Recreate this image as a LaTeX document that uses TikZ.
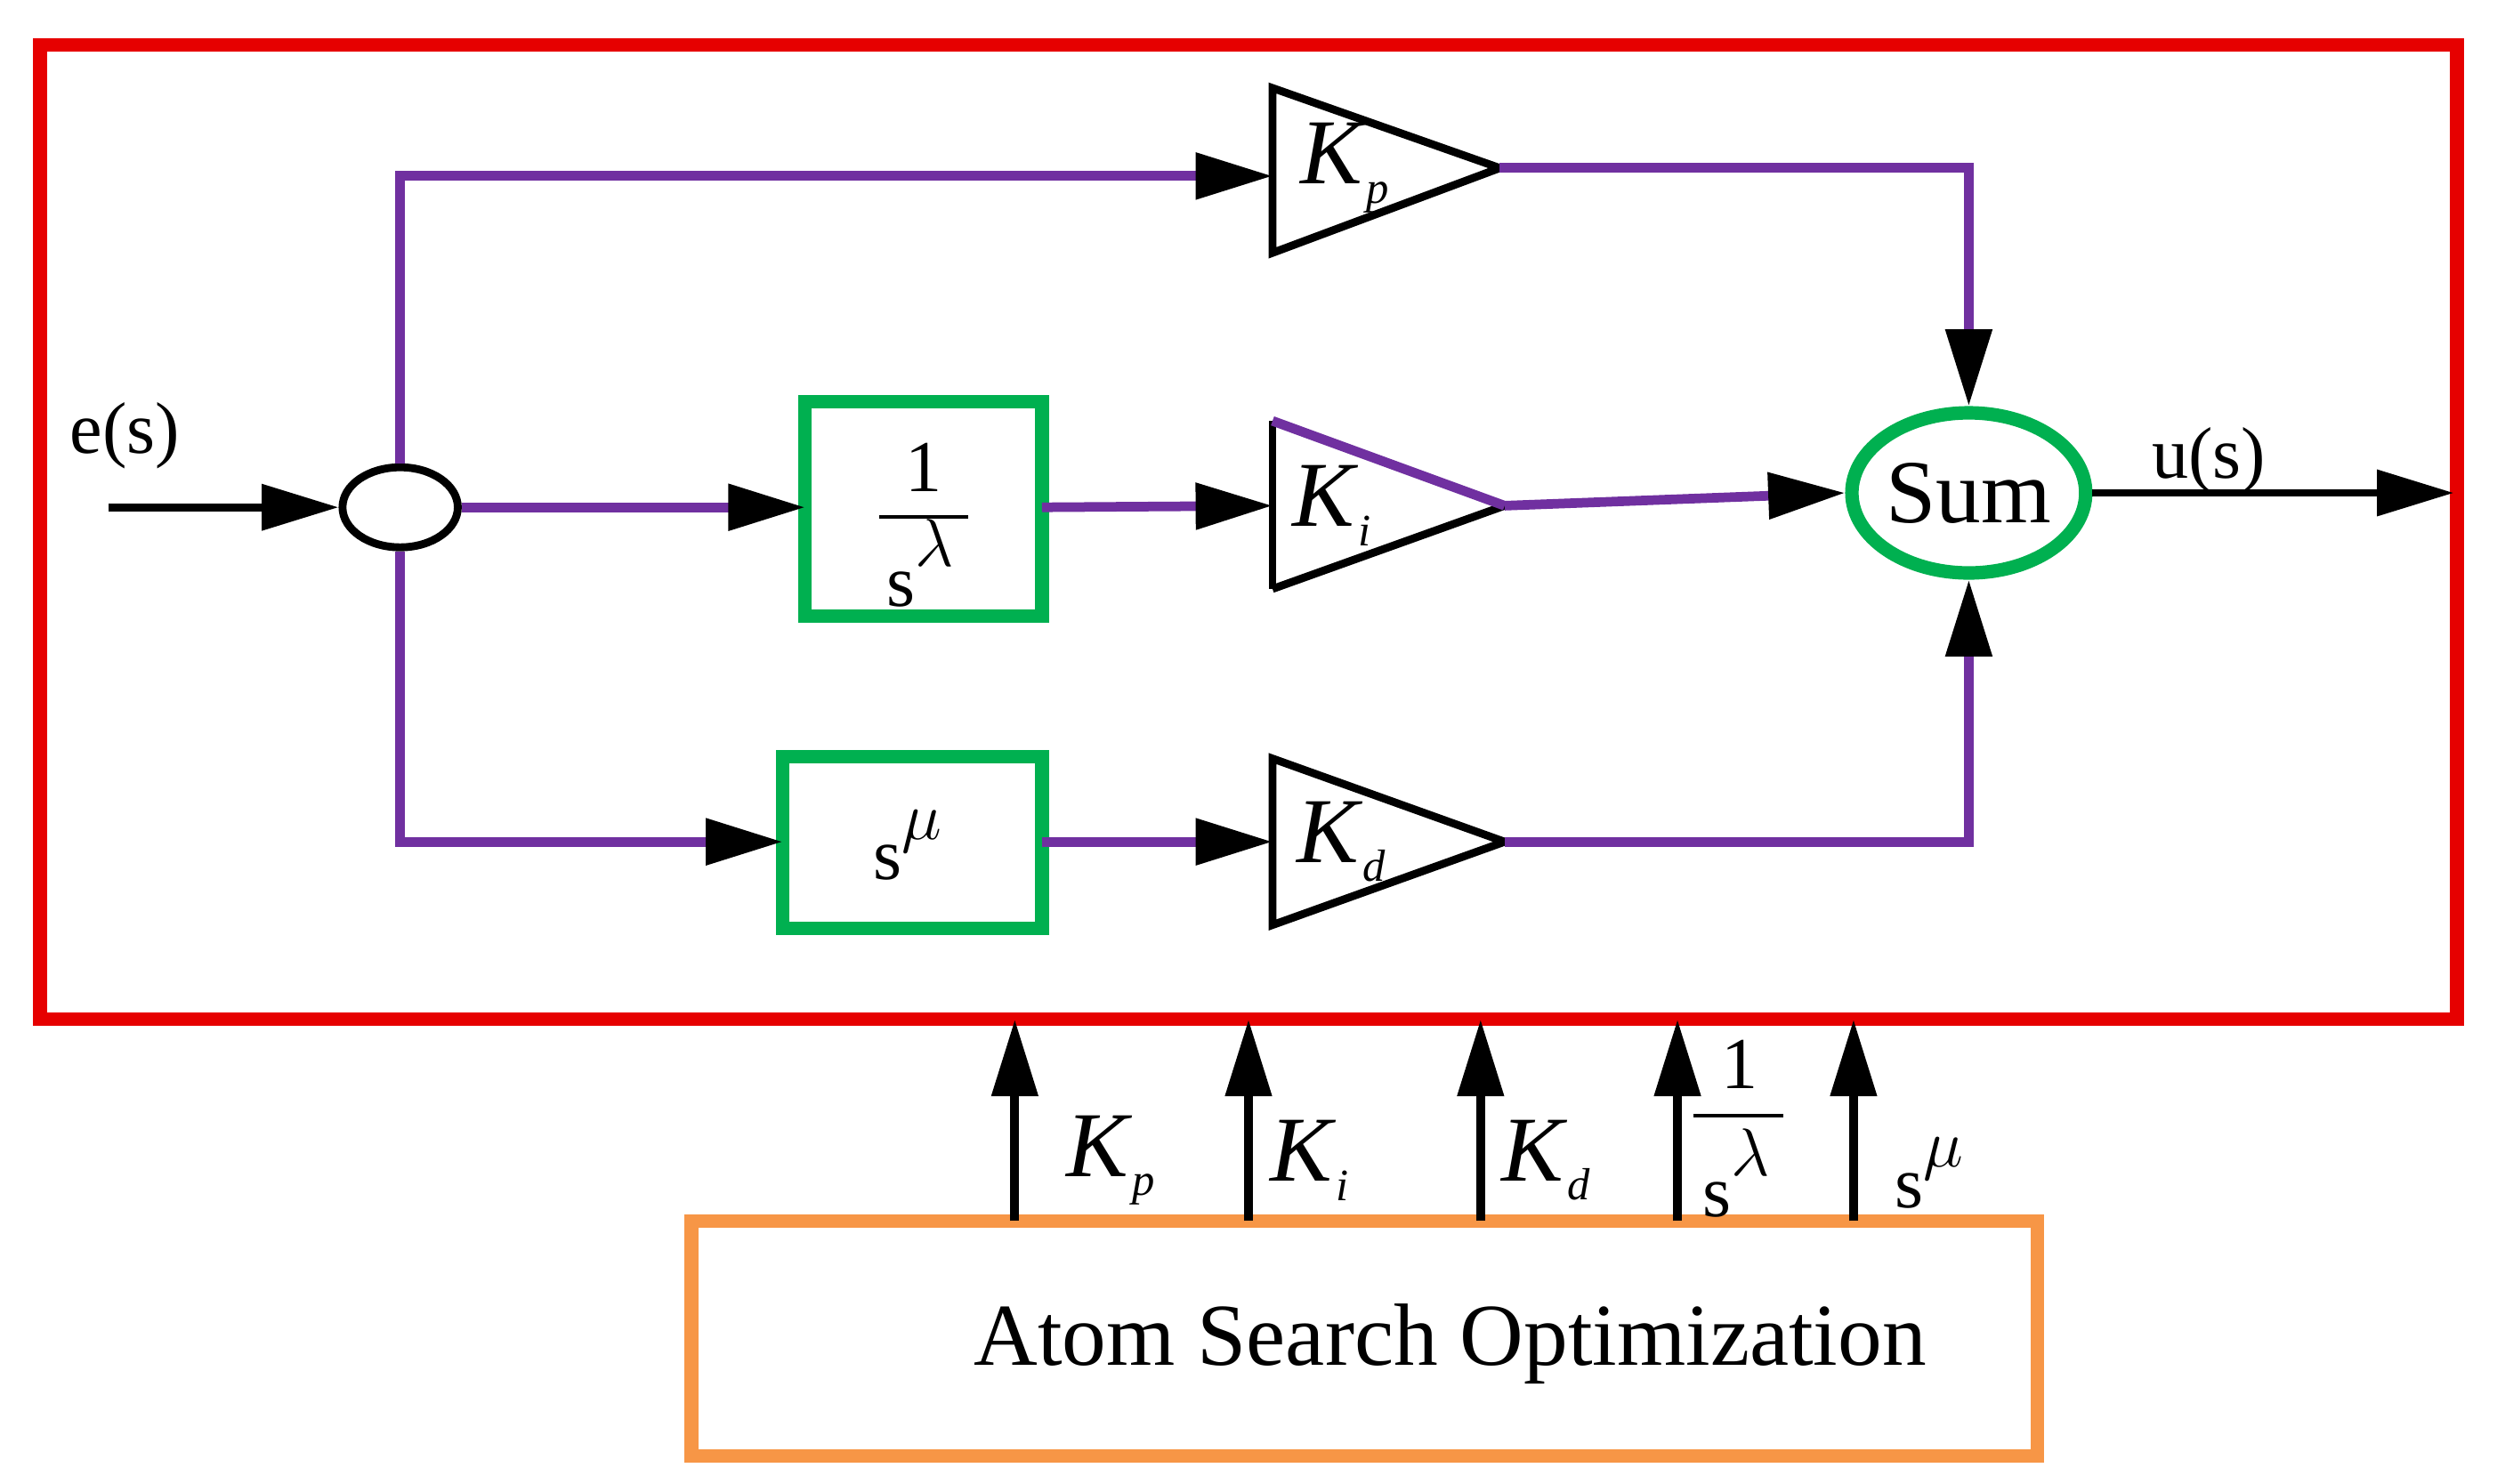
\documentclass[tikz,border=0pt]{standalone}
\usepackage{fontspec}
\setmainfont{Liberation Serif}
\usetikzlibrary{arrows.meta,shapes.geometric}
\definecolor{pur}{RGB}{112,48,160}
\definecolor{grn}{RGB}{0,176,80}
\definecolor{rd}{RGB}{230,0,0}
\definecolor{org}{RGB}{247,150,70}
\newcommand{\kk}[1]{\textit{K}\raisebox{-0.45ex}{\footnotesize\textit{#1}}}
\begin{document}
\begin{tikzpicture}[x=0.01cm,y=-0.01cm,
  arr/.style={-{Triangle[length=0.48cm,width=0.28cm,color=black]}},
  pl/.style={pur,line width=1.7pt},
  bl/.style={black,line width=1.4pt},
  gbox/.style={draw=grn,line width=2.4pt},
  lab/.style={font=\fontsize{13}{13}\selectfont},
  klab/.style={font=\fontsize{16.5}{16.5}\selectfont}]
\useasboundingbox (0,0) rectangle (1560,927);
% frames
\draw[rd,line width=2.4pt] (25,28) rectangle (1535,637);
\draw[org,line width=2.4pt] (432,763) rectangle (1273,910);
\node[font=\fontsize{15.7}{16}\selectfont] (aso) at (906,840) {Atom Search Optimization};
% junction
\node[draw,ellipse,line width=1.4pt,minimum width=0.72cm,minimum height=0.5cm,inner sep=0] (j) at (250,317) {};
\coordinate (ein) at (68,317);
\draw[bl,arr] (ein) -- (j.west);
\node[lab] (es) at (78,272) {e(s)};
% triangles
\draw[bl] (795,55) -- (937,105) -- (795,158) -- cycle;
\coordinate (kpi) at (795,110); \coordinate (kpo) at (937,105);
\node[klab] (kp) at (840,105) {\kk{p}};
\draw[bl] (795,368) -- (940,316);
\draw[bl] (795,263) -- (795,368);
\draw[pl] (795,263) -- (940,316);
\coordinate (kii) at (795,316); \coordinate (kio) at (940,316);
\node[klab] (ki) at (832,316) {\kk{i}};
\draw[bl] (795,474) -- (940,526) -- (795,578) -- cycle;
\coordinate (kdi) at (795,526); \coordinate (kdo) at (940,526);
\node[klab] (kd) at (838,526) {\kk{d}};
% boxes
\draw[gbox] (503,251) rectangle (651,385);
\coordinate (b1i) at (503,317); \coordinate (b1o) at (651,317);
\node[lab] (b1t) at (577,292) {1};
\draw[black,line width=0.6pt] (549,323) -- (605,323);
\node[lab] (b1b) at (575,352) {s\raisebox{1.2ex}{$\lambda$}};
\draw[gbox] (489,473) rectangle (651,580);
\coordinate (b2i) at (489,526); \coordinate (b2o) at (651,526);
\node[lab] (b2t) at (567,528) {s\raisebox{1.2ex}{$\mu$}};
% sum
\node[draw=grn,line width=2.4pt,ellipse,minimum width=1.46cm,minimum height=1.0cm,inner sep=0,font=\fontsize{16}{16}\selectfont] (sum) at (1230,308) {Sum};
% connections
\draw[pl,arr] (j.north) -- (250,110) -- (kpi);
\draw[pl,arr] (j.east) -- (b1i);
\draw[pl,arr] (b1o) -- (kii);
\draw[pl,arr] (j.south) -- (250,526) -- (b2i);
\draw[pl,arr] (b2o) -- (kdi);
\draw[pl,arr] (kpo) -- (1230,105) -- (sum.north);
\draw[pl,arr] (kio) -- (sum.west);
\draw[pl,arr] (kdo) -- (1230,526) -- (sum.south);
\coordinate (uout) at (1533,308);
\draw[bl,arr] (sum.east) -- (uout);
\node[lab] (us) at (1380,288) {u(s)};
% parameter arrows
\foreach \x/\n in {634/a1,780/a2,925/a3,1048/a4,1158/a5}{
  \coordinate (\n b) at (\x,763); \coordinate (\n t) at (\x,637);
  \draw[bl,line width=1.6pt,arr] (\n b) -- (\n t);}
\node[klab] (l1) at (694,725) {\kk{p}};
\node[klab] (l2) at (818,725) {\kk{i}};
\node[klab] (l3) at (966,725) {\kk{d}};
\node[lab] (l4a) at (1087,665) {1};
\draw[black,line width=0.6pt] (1058,697) -- (1114,697);
\node[lab] (l4b) at (1085,733) {s\raisebox{1.2ex}{$\lambda$}};
\node[lab] (l5) at (1205,733) {s\raisebox{1.2ex}{$\mu$}};
\end{tikzpicture}
\end{document}
